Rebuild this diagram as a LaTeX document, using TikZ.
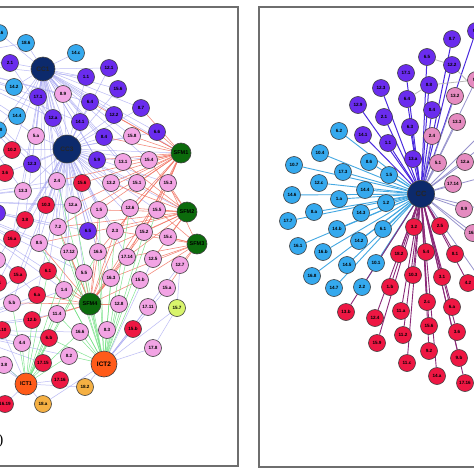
\documentclass[tikz,border=0pt]{standalone}
\usepackage{fontspec}
\setmainfont{Liberation Serif}
\newfontfamily\lblfont{Liberation Sans}
\usetikzlibrary{backgrounds}
\usepackage{xcolor}
\definecolor{cpurple}{HTML}{6A2CEE}
\definecolor{cblue}{HTML}{35A9EE}
\definecolor{cnavy}{HTML}{0C2A6C}
\definecolor{cpink}{HTML}{F2A4E4}
\definecolor{cpinkr}{HTML}{E58BC0}
\definecolor{cred}{HTML}{EE1743}
\definecolor{cgreen}{HTML}{0C6B0C}
\definecolor{corange}{HTML}{FF5B19}
\definecolor{cyellow}{HTML}{F5B043}
\definecolor{clime}{HTML}{D8F46C}
\definecolor{elav}{HTML}{A9A9F2}
\definecolor{esalmon}{HTML}{F2705E}
\definecolor{egreen}{HTML}{6BE07D}
\definecolor{eviolet}{HTML}{4A2BDE}
\definecolor{ecyan}{HTML}{44A8E2}
\definecolor{emauve}{HTML}{8A2A78}
\definecolor{elilac}{HTML}{8C87C8}
\definecolor{framegray}{HTML}{6E6E6E}

\begin{document}
\begin{tikzpicture}[x=1pt, y=-1pt,
    gnode/.style={circle, draw=black!75, line width=0.6pt, minimum size=17pt, inner sep=0pt,
      font=\lblfont\fontsize{4.6}{5}\selectfont\bfseries},
    purp/.style={gnode, fill=cpurple},
    blu/.style={gnode, fill=cblue},
    pnk/.style={gnode, fill=cpink},
    pnkr/.style={gnode, fill=cpinkr},
    rd/.style={gnode, fill=cred},
    hub/.style={gnode, fill=cnavy, text=black!85, font=\lblfont\fontsize{6.5}{7}\selectfont\bfseries},
    sfm/.style={gnode, fill=cgreen, minimum size=20pt, font=\lblfont\fontsize{5.5}{6}\selectfont\bfseries},
    ict/.style={gnode, fill=corange, font=\lblfont\fontsize{6.5}{7}\selectfont\bfseries},
    ylw/.style={gnode, fill=cyellow},
    lime/.style={gnode, fill=clime},
    lav/.style={elav, line width=0.5pt, opacity=0.8},
    slm/.style={esalmon, line width=0.55pt, opacity=0.85},
    grn/.style={egreen, line width=0.5pt, opacity=0.85},
    viol/.style={eviolet, line width=1pt},
    cyn/.style={ecyan, line width=0.9pt},
    mauv/.style={emauve, line width=0.9pt},
    lil/.style={elilac, line width=0.8pt, opacity=0.9},
    panel/.style={framegray, line width=1.1pt}]
  \useasboundingbox (0,0) rectangle (474,474);
  \clip (0,0) rectangle (474,474);

  \draw[panel] (-240,7) rectangle (238,466);
  \draw[panel] (259,7) rectangle (720,467);
  \node[anchor=east, font=\fontsize{15}{16}\selectfont] (lbla) at (7,441) {(a)};

  \node[hub, minimum size=24pt] (lcc1) at (43,69) {CC1};
  \node[hub, minimum size=28pt] (lcc3) at (67,149) {CC3};
  \foreach \n/\x/\y/\t in {l21/10/63/2.1, l11/86/77/1.1, l121/109/68/12.1, l171/38/97/17.1,
      l64/90/102/6.4, l156/118/89/15.6, l87/141/108/8.7, l122/114/115/12.2, l12a/53/118/12.a,
      l141/80/122/14.1, l66/157/132/6.6, l84/104/137/8.4, l123/32/164/12.3, l59/97/160/5.9,
      l65/88/231/6.5, lpe/-3/213/6.2}
    \node[purp] (\n) at (\x,\y) {\t};
  \foreach \n/\x/\y/\t in {l186/26/43/18.6, l14c/76/53/14.c, l142/14/87/14.2, l144/17/116/14.4,
      lb1/-1/33/10.6, lb2/-2/130/14.8}
    \node[blu] (\n) at (\x,\y) {\t};
  \foreach \n/\x/\y/\t in {l89/63/94/8.9, l5a/36/136/5.a, l158/132/136/15.8, l131/123/162/13.1,
      l154/149/160/15.4, l24/57/181/2.4, l132/111/183/13.2, l151/137/183/15.1, l153/168/183/15.3,
      l133/23/191/13.3, l12p/73/205/12.a, l15/99/210/1.5, l126/130/208/12.6, l155/157/210/15.5,
      l72/58/227/7.2, l23/115/231/2.3, l152/144/232/15.2, l15c/168/237/15.c, l85/39/243/8.5,
      l1712/69/252/17.12, l165/98/252/16.5, l1714/127/257/17.14, l125/153/259/12.5,
      l127/180/265/12.7, lpk1/-3/260/4.3, l55/84/273/5.5, l163/111/278/16.3, l15b/140/280/15.b,
      l14/64/290/1.4, l15a/167/288/15.a, l5b/12/303/5.b, l128/119/304/12.8, l1711/148/307/17.11,
      l114/57/314/11.4, l166/80/332/16.6, l83/107/330/8.3, l44/22/343/4.4, l82/69/356/8.2,
      l178/153/348/17.8, l38/4/365/3.8}
    \node[pnk] (\n) at (\x,\y) {\t};
  \foreach \n/\x/\y/\t in {l102/12/150/10.2, l36/5/173/3.6, l156r/82/183/15.6, l103/46/205/10.3,
      l38r/25/220/3.8, l16a/12/239/16.a, l61/48/271/6.1, l15ar/18/275/15.a, lrd1/-2/283/9.1,
      l6a/37/295/6.a, l12b/32/320/12.b, l610/2/330/6.10, l6b/49/338/6.b, l15br/133/329/15.b,
      l1715/43/363/17.15, l1716/60/380/17.16, l1619/5/404/16.19}
    \node[rd] (\n) at (\x,\y) {\t};
  \node[sfm] (lsfm1) at (181,153) {SFM1};
  \node[sfm] (lsfm2) at (187,212) {SFM2};
  \node[sfm] (lsfm3) at (197,244) {SFM3};
  \node[sfm, minimum size=22pt] (lsfm4) at (90,304) {SFM4};
  \node[ict, minimum size=26pt] (lict2) at (104,364) {ICT2};
  \node[ict, minimum size=22pt, font=\lblfont\fontsize{5.5}{6}\selectfont\bfseries] (lict1) at (26,384) {ICT1};
  \node[ylw] (l182) at (85,387) {18.2};
  \node[ylw] (l18a) at (43,404) {18.a};
  \node[lime] (l157) at (177,308) {15.7};
  \coordinate (lh1) at (-70,60);
  \coordinate (lh2) at (-60,200);
  \coordinate (lh3) at (-50,330);

  \node[hub, minimum size=27pt, font=\lblfont\fontsize{7.5}{8}\selectfont\bfseries] (rcc) at (421,194) {CC};
  \foreach \n/\x/\y/\t in {r87/452/39/8.7, r65/427/57/6.5, r122/452/65/12.2, rpp/476/31/9.7,
      r171/406/73/17.1, r88/429/85/8.8, r123/381/88/12.3, r64/407/99/6.4, r129/358/105/12.9,
      r84/432/110/8.4, r21/384/117/2.1, r141/363/135/14.1, r63/410/127/6.3, r11/388/143/1.1,
      r13a/413/159/13.a}
    \node[purp] (\n) at (\x,\y) {\t};
  \foreach \n/\x/\y/\t in {rp9/476/80/9.1, r132/455/96/13.2, r133/457/122/13.3, r24/432/136/2.4,
      r51/438/163/5.1, r12a/465/162/12.a, r1714/453/184/17.14, r89/464/209/8.9, rp16/473/233/16.2}
    \node[pnkr] (\n) at (\x,\y) {\t};
  \foreach \n/\x/\y/\t in {r62/339/131/6.2, r104/320/153/10.4, r86/369/162/8.6, r107/294/165/10.7,
      r173/343/172/17.3, r15/389/175/1.5, r12c/319/183/12.c, r144/365/190/14.4, r146/292/195/14.6,
      r1a/339/199/1.a, r12/386/203/1.2, r8a/314/212/8.a, r143/361/213/14.3, r177/288/221/17.7,
      r14b/337/229/14.b, r61/383/229/6.1, r161/298/246/16.1, r142/359/241/14.2, r16b/323/252/16.b,
      r145/347/265/14.5, r101/376/263/10.1, r168/312/276/16.8, r147/334/288/14.7, r22/362/287/2.2}
    \node[blu] (\n) at (\x,\y) {\t};
  \foreach \n/\x/\y/\t in {r32/414/227/3.2, r25/440/226/2.5, r182/399/254/18.2, r54/426/252/5.4,
      r81/455/254/8.1, r103/413/275/10.3, r31/442/277/3.1, r42/468/283/4.2, r1b/390/287/1.b,
      r2c/427/302/2.c, r6a/452/307/6.a, r13b/346/312/13.b, r124/375/318/12.4, r11a/401/311/11.a,
      r156/429/326/15.6, r112/403/335/11.2, r36/457/332/3.6, r159/377/343/15.9, r92/429/351/9.2,
      r9b/459/358/9.b, r11c/407/363/11.c, r14a/437/376/14.a, r1716/465/383/17.16}
    \node[rd] (\n) at (\x,\y) {\t};
  \coordinate (rx1) at (500,115);
  \coordinate (rx2) at (510,170);
  \coordinate (rx3) at (505,215);
  \coordinate (rx4) at (500,260);
  \coordinate (rx5) at (495,300);
  \coordinate (rx6) at (490,140);

  \begin{pgfonlayer}{background}
    \fill[white] (0,0) rectangle (474,474);
    \foreach \m in {l21,l11,l121,l142,l171,l89,l64,l156,l87,l122,l144,l12a,l141,l66,l158,l84,l5a,
        l186,l14c,lb1,lb2,l102,l123,l59,l24,l133,l103,l12p,l15,l72,l65,l85,l1712,l165,l38r,l16a,
        lsfm1,l131,l154,l132,l151}
      \draw[lav] (lcc1) -- (\m);
    \foreach \m in {l21,l11,l121,l171,l89,l64,l156,l87,l122,l12a,l141,l66,l84,l158,l5a,l102,l123,
        l59,l131,l154,l24,l156r,l132,l133,l103,l12p,l15,l72,l65,l23,l85,l1712,l165,l16a,l61,l55,
        l14,l6a,l15ar,l38r,l36,l5b,lpk1,lrd1,l151,l126,l153,l155,l152,lsfm1,lsfm2,l1714,l163}
      \draw[lav] (lcc3) -- (\m);
    \foreach \m in {lb1,l21,l142,lb2,l144,l171,l12a,l5a,l102,l36,l133,l123,l24,l89,l141,l186,l11,l64}
      \draw[lav] (lh1) -- (\m);
    \foreach \m in {l102,l36,l133,l103,l38r,l16a,lpe,l85,l72,l15ar,lpk1,lrd1,l61,l6a,l1712,l14,l55,
        l12p,l65,l24,l156r}
      \draw[lav] (lh2) -- (\m);
    \foreach \m in {l5b,l12b,l610,l44,l38,l6b,l1715,l114,l14,l6a,l15ar,lrd1,lict1,l1619,l61,l82,l166}
      \draw[lav] (lh3) -- (\m);
    \foreach \m in {l64,l84,l158,l122,l131,l154,l132,l151,l153,l126,l155,l15,l23,l152,l165,l1714,
        l72,l12p,l24,l156r,l59,l87,l66}
      \draw[slm] (lsfm1) -- (\m);
    \foreach \m in {l153,l155,l152,l15c,l125,l1714,l23,l126,l15,l151,l132,l165,l72,l85,l131,l154}
      \draw[slm] (lsfm2) -- (\m);
    \foreach \m in {l15c,l125,l127,l152,l155,l153,l1714,l23,l15b,l15a,l163}
      \draw[slm] (lsfm3) -- (\m);
    \foreach \m in {l165,l55,l163,l23,l15,l1714,l152,l126,l14,l72,l1712,l85,l61,l6a,l5b,l128,l12b,
        l114,l155,l153,l15b}
      \draw[slm] (lsfm4) -- (\m);
    \foreach \m in {l55,l165,l163,l14,l1712,l166,l83,l82,l114,l6b,l128,l23,l15,l126,l72,l85,l24,
        l12p,l155,l152,l1714,l15b,lsfm4}
      \draw[grn] (lict2) -- (\m);
    \foreach \m in {l44,l6b,l114,l14,l1712,l55,l165,l82,l1715,l12b,l166,l5b,l38,l61}
      \draw[grn] (lict1) -- (\m);
    \foreach \m in {l178,l157,l1711,l15br,l15a,l127,l182,l18a,l125}
      \draw[lav] (lict2) -- (\m);
    \foreach \m in {l18a,l1619,l182,l610,l1716,l38}
      \draw[lav] (lict1) -- (\m);
    \draw[lav] (l157) -- (l127);
    \draw[lav] (l157) -- (l178);

    \foreach \m in {r87,r65,r122,r171,r88,r123,r64,r129,r84,r21,r141,r63,r11,r13a,rpp}
      \draw[viol] (rcc) -- (\m);
    \foreach \m in {r62,r104,r86,r107,r173,r15,r12c,r144,r146,r1a,r12,r8a,r143,r177,r14b,r61,
        r161,r142,r16b,r145,r101,r168,r147,r22}
      \draw[cyn] (rcc) -- (\m);
    \foreach \m in {r32,r25,r182,r54,r81,r103,r31,r42,r1b,r2c,r6a,r13b,r124,r11a,r156,r112,r36,
        r159,r92,r9b,r11c,r14a,r1716}
      \draw[mauv] (rcc) -- (\m);
    \foreach \m in {r132,r133,r24,r51,r12a,r1714,r89,rp9,rp16,rx1,rx2,rx3,rx4,rx5,rx6}
      \draw[lil] (rcc) -- (\m);
    \draw[lil, black!30] (r65) -- (r122);
    \draw[lil, black!30] (r122) -- (rx1);
    \draw[lil, black!30] (r88) -- (rp9);
    \draw[lil, black!30] (r64) -- (r88);
  \end{pgfonlayer}
\end{tikzpicture}
\end{document}
